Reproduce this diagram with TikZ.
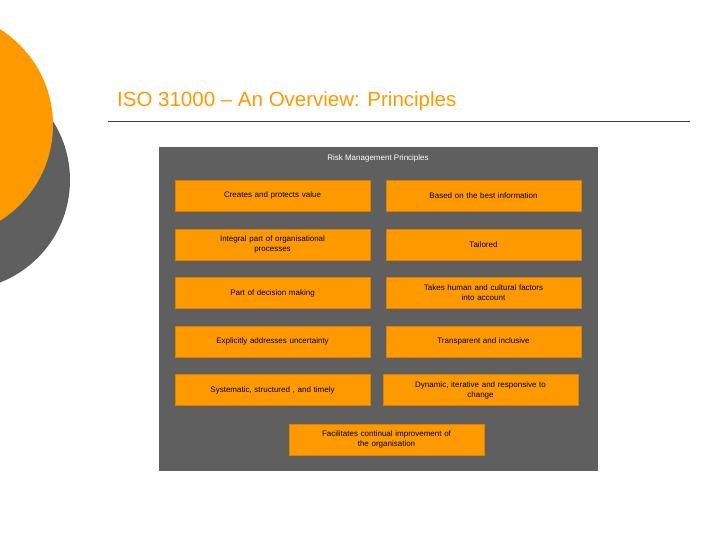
\documentclass[tikz,border=0pt]{standalone}
\usepackage{fontspec}
\setmainfont{Liberation Sans}
\definecolor{org}{HTML}{FF9900}
\definecolor{pan}{HTML}{5F5F5F}
\begin{document}
\begin{tikzpicture}[x=1pt,y=-1pt,
  pbox/.style={fill=org,draw=org!85!black,line width=0.4pt,minimum height=31pt,text width=185pt,align=center,font=\fontsize{8}{10}\selectfont,inner sep=1pt}]
\useasboundingbox (0,0) rectangle (728,546);
\clip (0,0) rectangle (728,546);
\fill[pan] (-40,180) circle (110);
\fill[org] (-60,125) circle (113);
\node[anchor=base west,text=org,font=\fontsize{20.5}{24}\selectfont,inner sep=0] (title) at (117,106) {ISO 31000 – An Overview: Principles};
\draw[line width=0.8pt,black!75] (108,121) -- (690,121);
\fill[pan] (159,147) rectangle (598,471);
\node[text=white,font=\fontsize{8}{10}\selectfont] (hdr) at (378,158) {Risk Management Principles};
\node[pbox,minimum width=195pt] (a1) at (272.5,195.5) {Creates and protects value};
\node[pbox,minimum width=195pt] (b1) at (483.5,195.5) {Based on the best information};
\node[pbox,minimum width=195pt] (a2) at (272.5,244.5) {Integral part of organisational\\processes};
\node[pbox,minimum width=195pt] (b2) at (483.5,244.5) {Tailored};
\node[pbox,minimum width=195pt] (a3) at (272.5,293) {Part of decision making};
\node[pbox,minimum width=195pt] (b3) at (483.5,293) {Takes human and cultural factors\\into account};
\node[pbox,minimum width=195pt] (a4) at (272.5,341.5) {Explicitly addresses uncertainty};
\node[pbox,minimum width=195pt] (b4) at (483.5,341.5) {Transparent and inclusive};
\node[pbox,minimum width=195pt] (a5) at (272.5,390) {Systematic, structured , and timely};
\node[pbox,minimum width=195pt] (b5) at (480.5,390) {Dynamic, iterative and responsive to\\change};
\node[pbox,minimum width=195pt] (c) at (386.5,439.5) {Facilitates continual improvement of\\the organisation};
\end{tikzpicture}
\end{document}
